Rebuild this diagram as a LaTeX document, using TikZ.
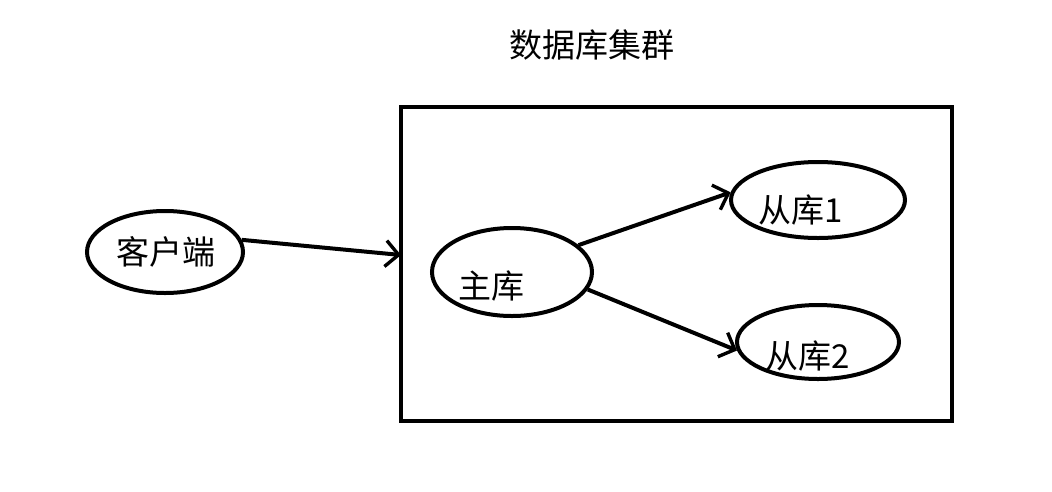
\documentclass[tikz,border=0pt]{standalone}
\usepackage{fontspec}
\setmainfont{Noto Sans CJK SC}
\usetikzlibrary{shapes.geometric,arrows.meta}
\tikzset{
  db/.style={ellipse, draw, line width=4pt, inner sep=0pt},
  lbl/.style={inner sep=0pt, font=\fontsize{33}{40}\selectfont},
  conn/.style={line width=4pt, -{Straight Barb[length=13pt,width=26pt,line width=3.4pt]}},
}
\begin{document}
\begin{tikzpicture}[x=1pt,y=-1pt]
\useasboundingbox (0,0) rectangle (1052,491);
\node[lbl] (title) at (592,45) {数据库集群};
\draw[line width=4.8pt] (401,107) rectangle (952,421);
\coordinate (cluster) at (401,255);
\node[db, minimum width=156pt, minimum height=82pt] (client) at (165,252) {};
\node[db, minimum width=160pt, minimum height=88pt] (master) at (512,272) {};
\node[db, minimum width=174pt, minimum height=76pt] (slave1) at (818,200) {};
\node[db, minimum width=162pt, minimum height=74pt] (slave2) at (818,342) {};
\node[lbl] (clientt) at (166,252) {客户端};
\node[lbl] (mastert) at (491,286) {主库};
\node[lbl] (slave1t) at (801,210) {从库1};
\node[lbl] (slave2t) at (808,356) {从库2};
\draw[conn] (client.9) -- (cluster);
\draw[conn] (master.22) -- (slave1.175);
\draw[conn] (master.-13) -- (slave2.186);
\end{tikzpicture}
\end{document}
